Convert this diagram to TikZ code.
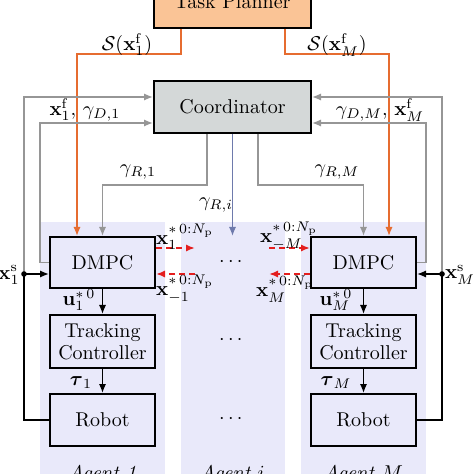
\documentclass[tikz,border=0pt]{standalone}
\usepackage{amsmath,amssymb}
\usetikzlibrary{arrows.meta,calc}
\definecolor{orl}{RGB}{230,108,48}
\definecolor{tpfill}{RGB}{250,196,150}
\definecolor{cofill}{RGB}{212,216,216}
\definecolor{gl}{RGB}{150,150,150}
\definecolor{bg}{RGB}{110,122,172}
\definecolor{rd}{RGB}{228,30,30}
\definecolor{lav}{RGB}{233,233,250}
\tikzset{
  blk/.style={draw=black, line width=1pt, fill=lav, align=center, inner sep=0pt, minimum width=52.5pt},
  tip/.style={-{Latex[length=4.5pt,width=3.6pt]}},
  org/.style={draw=orl, line width=0.75pt},
  gry/.style={draw=gl, line width=0.75pt},
  bln/.style={draw=black, line width=0.75pt},
  rdl/.style={draw=rd, line width=0.9pt, dash pattern=on 3pt off 2pt},
  lbl/.style={inner sep=0pt},
}
\begin{document}
\begin{tikzpicture}[x=0.5pt,y=-0.5pt]
\useasboundingbox (0,0) rectangle (474,474);
% panels
\fill[lav] (40,222) rectangle (165,480);
\fill[lav] (181,222) rectangle (285,480);
\fill[lav] (301,222) rectangle (426,480);

% main boxes
\node[draw=black, line width=1pt, fill=tpfill, minimum width=78.5pt, minimum height=26.5pt, inner sep=0pt] (tp) at (232.5,1.5) {Task Planner};
\node[draw=black, line width=1pt, fill=cofill, minimum width=78.5pt, minimum height=26pt, inner sep=0pt] (co) at (232.5,107) {Coordinator};

\node[blk, minimum height=25.5pt] (dm1) at (102.5,262.5) {DMPC};
\node[blk, minimum height=26.5pt] (tc1) at (102.5,341.5) {Tracking\\[-1pt]Controller};
\node[blk, minimum height=26pt] (rb1) at (102.5,420) {Robot};

\node[blk, minimum height=25.5pt] (dmM) at (363.5,262.5) {DMPC};
\node[blk, minimum height=26.5pt] (tcM) at (363.5,341.5) {Tracking\\[-1pt]Controller};
\node[blk, minimum height=26pt] (rbM) at (363.5,420) {Robot};

% orange connectors
\coordinate (o1) at (181,54);
\coordinate (o2) at (77,54);
\coordinate (o3) at (285,54);
\coordinate (o4) at (389,54);
\draw[org,tip] (tp.south -| o1) -- (o1) -- (o2) -- (o2 |- dm1.north);
\draw[org,tip] (tp.south -| o3) -- (o3) -- (o4) -- (o4 |- dmM.north);
\node[lbl] (s1lab) at (127,45) {$\mathcal{S}(\mathbf{x}_1^{\mathrm{f}})$};
\node[lbl] (sMlab) at (337,45) {$\mathcal{S}(\mathbf{x}_M^{\mathrm{f}})$};

% state points
\coordinate (xs1) at (24,274);
\coordinate (xsM) at (442,274);

% gray feedback to coordinator
\coordinate (g1) at (24,97);
\coordinate (g2) at (40,123);
\coordinate (g3) at (442,97);
\coordinate (g4) at (426,123);
\draw[gry,tip] (xs1) -- (g1) -- (g1 -| co.west);
\draw[gry,tip] (dm1.west) -- (dm1.west -| g2) -- (g2) -- (g2 -| co.west);
\draw[gry,tip] (xsM) -- (g3) -- (g3 -| co.east);
\draw[gry,tip] (dmM.east) -- (dmM.east -| g4) -- (g4) -- (g4 -| co.east);
\node[lbl] (fl) at (85,110) {$\mathbf{x}_1^{\mathrm{f}},\,\gamma_{D,1}$};
\node[lbl] (fr) at (380,110) {$\gamma_{D,M},\,\mathbf{x}_M^{\mathrm{f}}$};

% coordinator outputs
\coordinate (r1) at (207,185);
\coordinate (rM) at (258,185);
\draw[gry,tip] (co.south -| r1) -- (r1) -- (r1 -| dm1.north) -- (dm1.north);
\draw[gry,tip] (co.south -| rM) -- (rM) -- (rM -| dmM.north) -- (dmM.north);
\coordinate (ri) at (232.5,236);
\draw[draw=bg, line width=0.75pt, tip] (co.south) -- (ri);
\node[lbl] (gr1) at (138,172) {$\gamma_{R,1}$};
\node[lbl] (grM) at (337,172) {$\gamma_{R,M}$};
\node[lbl] (gri) at (216,205) {$\gamma_{R,i}$};

% black loops
\draw[bln,tip] (xs1) -- (xs1 -| dm1.west);
\draw[bln] (rb1.west) -| (xs1);
\draw[bln,tip] (xsM) -- (xsM -| dmM.east);
\draw[bln] (rbM.east) -| (xsM);
\fill (xs1) circle (1.4pt);
\fill (xsM) circle (1.4pt);
\node[lbl] (xs1lab) at (9,275) {$\mathbf{x}_1^{\mathrm{s}}$};
\node[lbl] (xsMlab) at (460,275) {$\mathbf{x}_M^{\mathrm{s}}$};

\draw[bln,tip] (dm1) -- (tc1);
\draw[bln,tip] (tc1) -- (rb1);
\draw[bln,tip] (dmM) -- (tcM);
\draw[bln,tip] (tcM) -- (rbM);
\node[lbl] (u1) at (79,300) {$\mathbf{u}_1^{*\,0}$};
\node[lbl] (t1) at (81,383) {$\boldsymbol{\tau}_1$};
\node[lbl] (uM) at (336,300) {$\mathbf{u}_M^{*\,0}$};
\node[lbl] (tM) at (336,383) {$\boldsymbol{\tau}_M$};

% red dashed exchanges
\coordinate (d1) at (195,248);
\coordinate (d2) at (195,274);
\coordinate (d3) at (269,248);
\coordinate (d4) at (269,274);
\draw[rdl,tip] (d1 -| dm1.east) -- (d1);
\draw[rdl,tip] (d2) -- (d2 -| dm1.east);
\draw[rdl,tip] (d3) -- (d3 -| dmM.west);
\draw[rdl,tip] (d4 -| dmM.west) -- (d4);
\node[lbl] (e1) at (185,237) {$\mathbf{x}_1^{*\,0:N_{\mathrm{p}}}$};
\node[lbl] (e2) at (185,289) {$\mathbf{x}_{-1}^{*\,0:N_{\mathrm{p}}}$};
\node[lbl] (e3) at (289,236) {$\mathbf{x}_{-M}^{*\,0:N_{\mathrm{p}}}$};
\node[lbl] (e4) at (285,289) {$\mathbf{x}_M^{*\,0:N_{\mathrm{p}}}$};

% middle dots
\node[lbl] (m1) at (232.5,262) {$\cdots$};
\node[lbl] (m2) at (232.5,340) {$\cdots$};
\node[lbl] (m3) at (232.5,419) {$\cdots$};

% agent labels
\node[lbl] (a1) at (102.5,474) {\itshape Agent 1};
\node[lbl] (ai) at (232.5,474) {\itshape Agent $i$};
\node[lbl] (aM) at (363.5,474) {\itshape Agent $M$};
\end{tikzpicture}
\end{document}
